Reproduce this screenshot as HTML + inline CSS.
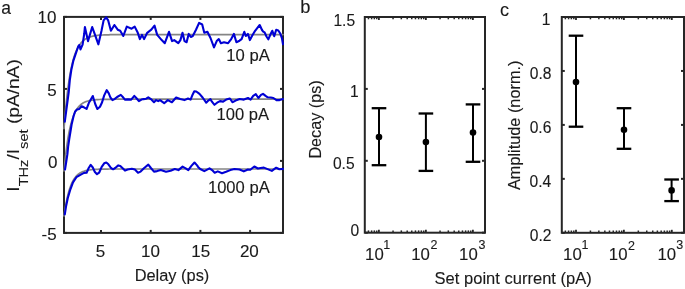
<!DOCTYPE html>
<html><head><meta charset="utf-8"><style>
html,body{margin:0;padding:0;background:#fff;}
svg{display:block;}
text{font-family:'Liberation Sans', Arial, Helvetica, sans-serif;fill:#1a1a1a;stroke:#1a1a1a;stroke-width:0.12px;}
</style></head><body>
<svg width="685" height="289" viewBox="0 0 685 289">
<rect width="685" height="289" fill="#fff"/>
<rect x="64.0" y="16.9" width="219.0" height="216.0" fill="none" stroke="#262626" stroke-width="2.0"/>
<line x1="101.00" y1="232.90" x2="101.00" y2="229.90" stroke="#262626" stroke-width="2.0"/>
<line x1="101.00" y1="16.90" x2="101.00" y2="19.90" stroke="#262626" stroke-width="2.0"/>
<line x1="150.70" y1="232.90" x2="150.70" y2="229.90" stroke="#262626" stroke-width="2.0"/>
<line x1="150.70" y1="16.90" x2="150.70" y2="19.90" stroke="#262626" stroke-width="2.0"/>
<line x1="200.40" y1="232.90" x2="200.40" y2="229.90" stroke="#262626" stroke-width="2.0"/>
<line x1="200.40" y1="16.90" x2="200.40" y2="19.90" stroke="#262626" stroke-width="2.0"/>
<line x1="250.10" y1="232.90" x2="250.10" y2="229.90" stroke="#262626" stroke-width="2.0"/>
<line x1="250.10" y1="16.90" x2="250.10" y2="19.90" stroke="#262626" stroke-width="2.0"/>
<line x1="64.00" y1="232.90" x2="67.00" y2="232.90" stroke="#262626" stroke-width="2.0"/>
<line x1="283.00" y1="232.90" x2="280.00" y2="232.90" stroke="#262626" stroke-width="2.0"/>
<line x1="64.00" y1="160.90" x2="67.00" y2="160.90" stroke="#262626" stroke-width="2.0"/>
<line x1="283.00" y1="160.90" x2="280.00" y2="160.90" stroke="#262626" stroke-width="2.0"/>
<line x1="64.00" y1="88.90" x2="67.00" y2="88.90" stroke="#262626" stroke-width="2.0"/>
<line x1="283.00" y1="88.90" x2="280.00" y2="88.90" stroke="#262626" stroke-width="2.0"/>
<line x1="64.00" y1="16.90" x2="67.00" y2="16.90" stroke="#262626" stroke-width="2.0"/>
<line x1="283.00" y1="16.90" x2="280.00" y2="16.90" stroke="#262626" stroke-width="2.0"/>
<polyline points="64.0,128.6 65.0,116.1 66.0,105.2 67.0,95.8 68.0,87.7 69.0,80.6 70.0,74.5 71.0,69.2 72.0,64.6 73.0,60.6 74.0,57.1 75.0,54.1 76.0,51.5 77.0,49.3 78.0,47.3 79.0,45.6 80.0,44.2 81.0,42.9 82.0,41.8 83.0,40.8 84.0,40.0 85.0,39.3 86.0,38.7 87.0,38.1 88.0,37.6 89.0,37.2 90.0,36.9 91.0,36.6 92.0,36.3 93.0,36.1 94.0,35.9 95.0,35.7 96.0,35.6 97.0,35.4 98.0,35.3 99.0,35.2 100.0,35.1 101.0,35.1 102.0,35.0 103.0,35.0 104.0,34.9 105.0,34.9 106.0,34.8 107.0,34.8 108.0,34.8 109.0,34.8 110.0,34.7 111.0,34.7 112.0,34.7 113.0,34.7 114.0,34.7 115.0,34.7 116.0,34.7 117.0,34.6 118.0,34.6 119.0,34.6 120.0,34.6 121.0,34.6 122.0,34.6 123.0,34.6 124.0,34.6 125.0,34.6 126.0,34.6 127.0,34.6 128.0,34.6 129.0,34.6 130.0,34.6 131.0,34.6 132.0,34.6 133.0,34.6 134.0,34.6 135.0,34.6 136.0,34.6 137.0,34.6 138.0,34.6 139.0,34.6 140.0,34.6 141.0,34.6 142.0,34.6 143.0,34.6 144.0,34.6 145.0,34.6 146.0,34.6 147.0,34.6 148.0,34.6 149.0,34.6 150.0,34.6 151.0,34.6 152.0,34.6 153.0,34.6 154.0,34.6 155.0,34.6 156.0,34.6 157.0,34.6 158.0,34.6 159.0,34.6 160.0,34.6 161.0,34.6 162.0,34.6 163.0,34.6 164.0,34.6 165.0,34.6 166.0,34.6 167.0,34.6 168.0,34.6 169.0,34.6 170.0,34.6 171.0,34.6 172.0,34.6 173.0,34.6 174.0,34.6 175.0,34.6 176.0,34.6 177.0,34.6 178.0,34.6 179.0,34.6 180.0,34.6 181.0,34.6 182.0,34.6 183.0,34.6 184.0,34.6 185.0,34.6 186.0,34.6 187.0,34.6 188.0,34.6 189.0,34.6 190.0,34.6 191.0,34.6 192.0,34.6 193.0,34.6 194.0,34.6 195.0,34.6 196.0,34.6 197.0,34.6 198.0,34.6 199.0,34.6 200.0,34.6 201.0,34.6 202.0,34.6 203.0,34.6 204.0,34.6 205.0,34.6 206.0,34.6 207.0,34.6 208.0,34.6 209.0,34.6 210.0,34.6 211.0,34.6 212.0,34.6 213.0,34.6 214.0,34.6 215.0,34.6 216.0,34.6 217.0,34.6 218.0,34.6 219.0,34.6 220.0,34.6 221.0,34.6 222.0,34.6 223.0,34.6 224.0,34.6 225.0,34.6 226.0,34.6 227.0,34.6 228.0,34.6 229.0,34.6 230.0,34.6 231.0,34.6 232.0,34.6 233.0,34.6 234.0,34.6 235.0,34.6 236.0,34.6 237.0,34.6 238.0,34.6 239.0,34.6 240.0,34.6 241.0,34.6 242.0,34.6 243.0,34.6 244.0,34.6 245.0,34.6 246.0,34.6 247.0,34.6 248.0,34.6 249.0,34.6 250.0,34.6 251.0,34.6 252.0,34.6 253.0,34.6 254.0,34.6 255.0,34.6 256.0,34.6 257.0,34.6 258.0,34.6 259.0,34.6 260.0,34.6 261.0,34.6 262.0,34.6 263.0,34.6 264.0,34.6 265.0,34.6 266.0,34.6 267.0,34.6 268.0,34.6 269.0,34.6 270.0,34.6 271.0,34.6 272.0,34.6 273.0,34.6 274.0,34.6 275.0,34.6 276.0,34.6 277.0,34.6 278.0,34.6 279.0,34.6 280.0,34.6 281.0,34.6 282.0,34.6 283.0,34.6" fill="none" stroke="#858585" stroke-width="1.7" stroke-linejoin="round" stroke-linecap="round"/>
<polyline points="64.0,171.0 65.0,160.8 66.0,152.0 67.0,144.5 68.0,138.0 69.0,132.5 70.0,127.7 71.0,123.7 72.0,120.2 73.0,117.2 74.0,114.6 75.0,112.4 76.0,110.5 77.0,108.9 78.0,107.5 79.0,106.3 80.0,105.3 81.0,104.5 82.0,103.7 83.0,103.1 84.0,102.5 85.0,102.0 86.0,101.6 87.0,101.3 88.0,101.0 89.0,100.7 90.0,100.5 91.0,100.3 92.0,100.2 93.0,100.0 94.0,99.9 95.0,99.8 96.0,99.7 97.0,99.6 98.0,99.6 99.0,99.5 100.0,99.5 101.0,99.4 102.0,99.4 103.0,99.4 104.0,99.4 105.0,99.3 106.0,99.3 107.0,99.3 108.0,99.3 109.0,99.3 110.0,99.3 111.0,99.3 112.0,99.2 113.0,99.2 114.0,99.2 115.0,99.2 116.0,99.2 117.0,99.2 118.0,99.2 119.0,99.2 120.0,99.2 121.0,99.2 122.0,99.2 123.0,99.2 124.0,99.2 125.0,99.2 126.0,99.2 127.0,99.2 128.0,99.2 129.0,99.2 130.0,99.2 131.0,99.2 132.0,99.2 133.0,99.2 134.0,99.2 135.0,99.2 136.0,99.2 137.0,99.2 138.0,99.2 139.0,99.2 140.0,99.2 141.0,99.2 142.0,99.2 143.0,99.2 144.0,99.2 145.0,99.2 146.0,99.2 147.0,99.2 148.0,99.2 149.0,99.2 150.0,99.2 151.0,99.2 152.0,99.2 153.0,99.2 154.0,99.2 155.0,99.2 156.0,99.2 157.0,99.2 158.0,99.2 159.0,99.2 160.0,99.2 161.0,99.2 162.0,99.2 163.0,99.2 164.0,99.2 165.0,99.2 166.0,99.2 167.0,99.2 168.0,99.2 169.0,99.2 170.0,99.2 171.0,99.2 172.0,99.2 173.0,99.2 174.0,99.2 175.0,99.2 176.0,99.2 177.0,99.2 178.0,99.2 179.0,99.2 180.0,99.2 181.0,99.2 182.0,99.2 183.0,99.2 184.0,99.2 185.0,99.2 186.0,99.2 187.0,99.2 188.0,99.2 189.0,99.2 190.0,99.2 191.0,99.2 192.0,99.2 193.0,99.2 194.0,99.2 195.0,99.2 196.0,99.2 197.0,99.2 198.0,99.2 199.0,99.2 200.0,99.2 201.0,99.2 202.0,99.2 203.0,99.2 204.0,99.2 205.0,99.2 206.0,99.2 207.0,99.2 208.0,99.2 209.0,99.2 210.0,99.2 211.0,99.2 212.0,99.2 213.0,99.2 214.0,99.2 215.0,99.2 216.0,99.2 217.0,99.2 218.0,99.2 219.0,99.2 220.0,99.2 221.0,99.2 222.0,99.2 223.0,99.2 224.0,99.2 225.0,99.2 226.0,99.2 227.0,99.2 228.0,99.2 229.0,99.2 230.0,99.2 231.0,99.2 232.0,99.2 233.0,99.2 234.0,99.2 235.0,99.2 236.0,99.2 237.0,99.2 238.0,99.2 239.0,99.2 240.0,99.2 241.0,99.2 242.0,99.2 243.0,99.2 244.0,99.2 245.0,99.2 246.0,99.2 247.0,99.2 248.0,99.2 249.0,99.2 250.0,99.2 251.0,99.2 252.0,99.2 253.0,99.2 254.0,99.2 255.0,99.2 256.0,99.2 257.0,99.2 258.0,99.2 259.0,99.2 260.0,99.2 261.0,99.2 262.0,99.2 263.0,99.2 264.0,99.2 265.0,99.2 266.0,99.2 267.0,99.2 268.0,99.2 269.0,99.2 270.0,99.2 271.0,99.2 272.0,99.2 273.0,99.2 274.0,99.2 275.0,99.2 276.0,99.2 277.0,99.2 278.0,99.2 279.0,99.2 280.0,99.2 281.0,99.2 282.0,99.2 283.0,99.2" fill="none" stroke="#858585" stroke-width="1.7" stroke-linejoin="round" stroke-linecap="round"/>
<polyline points="64.0,216.0 65.0,209.3 66.0,203.6 67.0,198.6 68.0,194.4 69.0,190.8 70.0,187.7 71.0,185.0 72.0,182.7 73.0,180.8 74.0,179.1 75.0,177.7 76.0,176.4 77.0,175.4 78.0,174.5 79.0,173.7 80.0,173.0 81.0,172.4 82.0,171.9 83.0,171.5 84.0,171.2 85.0,170.9 86.0,170.6 87.0,170.4 88.0,170.2 89.0,170.0 90.0,169.9 91.0,169.7 92.0,169.6 93.0,169.5 94.0,169.5 95.0,169.4 96.0,169.3 97.0,169.3 98.0,169.3 99.0,169.2 100.0,169.2 101.0,169.2 102.0,169.1 103.0,169.1 104.0,169.1 105.0,169.1 106.0,169.1 107.0,169.1 108.0,169.1 109.0,169.0 110.0,169.0 111.0,169.0 112.0,169.0 113.0,169.0 114.0,169.0 115.0,169.0 116.0,169.0 117.0,169.0 118.0,169.0 119.0,169.0 120.0,169.0 121.0,169.0 122.0,169.0 123.0,169.0 124.0,169.0 125.0,169.0 126.0,169.0 127.0,169.0 128.0,169.0 129.0,169.0 130.0,169.0 131.0,169.0 132.0,169.0 133.0,169.0 134.0,169.0 135.0,169.0 136.0,169.0 137.0,169.0 138.0,169.0 139.0,169.0 140.0,169.0 141.0,169.0 142.0,169.0 143.0,169.0 144.0,169.0 145.0,169.0 146.0,169.0 147.0,169.0 148.0,169.0 149.0,169.0 150.0,169.0 151.0,169.0 152.0,169.0 153.0,169.0 154.0,169.0 155.0,169.0 156.0,169.0 157.0,169.0 158.0,169.0 159.0,169.0 160.0,169.0 161.0,169.0 162.0,169.0 163.0,169.0 164.0,169.0 165.0,169.0 166.0,169.0 167.0,169.0 168.0,169.0 169.0,169.0 170.0,169.0 171.0,169.0 172.0,169.0 173.0,169.0 174.0,169.0 175.0,169.0 176.0,169.0 177.0,169.0 178.0,169.0 179.0,169.0 180.0,169.0 181.0,169.0 182.0,169.0 183.0,169.0 184.0,169.0 185.0,169.0 186.0,169.0 187.0,169.0 188.0,169.0 189.0,169.0 190.0,169.0 191.0,169.0 192.0,169.0 193.0,169.0 194.0,169.0 195.0,169.0 196.0,169.0 197.0,169.0 198.0,169.0 199.0,169.0 200.0,169.0 201.0,169.0 202.0,169.0 203.0,169.0 204.0,169.0 205.0,169.0 206.0,169.0 207.0,169.0 208.0,169.0 209.0,169.0 210.0,169.0 211.0,169.0 212.0,169.0 213.0,169.0 214.0,169.0 215.0,169.0 216.0,169.0 217.0,169.0 218.0,169.0 219.0,169.0 220.0,169.0 221.0,169.0 222.0,169.0 223.0,169.0 224.0,169.0 225.0,169.0 226.0,169.0 227.0,169.0 228.0,169.0 229.0,169.0 230.0,169.0 231.0,169.0 232.0,169.0 233.0,169.0 234.0,169.0 235.0,169.0 236.0,169.0 237.0,169.0 238.0,169.0 239.0,169.0 240.0,169.0 241.0,169.0 242.0,169.0 243.0,169.0 244.0,169.0 245.0,169.0 246.0,169.0 247.0,169.0 248.0,169.0 249.0,169.0 250.0,169.0 251.0,169.0 252.0,169.0 253.0,169.0 254.0,169.0 255.0,169.0 256.0,169.0 257.0,169.0 258.0,169.0 259.0,169.0 260.0,169.0 261.0,169.0 262.0,169.0 263.0,169.0 264.0,169.0 265.0,169.0 266.0,169.0 267.0,169.0 268.0,169.0 269.0,169.0 270.0,169.0 271.0,169.0 272.0,169.0 273.0,169.0 274.0,169.0 275.0,169.0 276.0,169.0 277.0,169.0 278.0,169.0 279.0,169.0 280.0,169.0 281.0,169.0 282.0,169.0 283.0,169.0" fill="none" stroke="#858585" stroke-width="1.7" stroke-linejoin="round" stroke-linecap="round"/>
<polyline points="64.8,121.7 66.4,109.6 68.7,92.3 69.8,80.2 71.3,70.0 73.4,60.6 75.5,54.4 78.2,46.5 79.4,45.0 80.5,49.4 82.6,44.6 84.2,34.0 84.9,27.0 88.0,41.1 92.2,27.0 94.3,32.8 98.4,44.3 101.5,30.8 103.6,20.4 106.1,17.3 108.2,20.4 110.9,30.8 114.4,25.0 117.7,29.7 120.2,30.8 123.3,36.0 126.8,26.6 131.6,28.7 134.7,26.6 137.8,32.8 139.9,39.1 142.0,34.9 144.1,39.1 147.2,32.8 151.3,29.7 154.5,25.6 157.2,34.9 161.7,40.1 164.8,43.2 169.0,31.8 172.1,41.1 174.2,40.1 178.3,43.2 180.4,40.1 182.5,32.8 184.5,41.1 186.6,42.2 188.7,33.9 190.8,37.0 192.8,36.0 196.0,29.7 199.1,22.9 202.2,24.5 204.3,32.8 207.4,31.8 210.5,38.0 214.0,47.4 216.7,41.1 218.8,39.1 220.9,43.2 224.0,42.2 228.1,43.2 231.2,39.1 233.9,33.9 236.4,42.2 239.5,40.7 241.6,39.1 244.3,31.8 245.8,36.0 247.9,33.9 249.9,40.1 252.0,36.0 255.1,30.8 257.6,27.6 259.7,25.0 262.0,30.0 263.2,31.6 264.6,32.4 266.5,36.5 268.3,39.3 270.4,34.5 272.3,30.8 274.2,36.2 276.2,29.8 278.3,30.5 280.4,33.8 282.0,38.5 283.0,44.2" fill="none" stroke="#0000d4" stroke-width="2.1" stroke-linejoin="round" stroke-linecap="round"/>
<polyline points="65.0,169.5 66.2,162.0 67.4,154.2 68.1,146.8 69.2,139.4 70.4,132.0 71.6,124.5 73.6,116.0 75.1,111.5 77.0,109.6 79.3,108.9 81.6,106.2 83.9,107.3 86.6,108.9 88.8,103.1 91.1,99.1 92.8,96.0 95.3,104.3 97.4,109.0 100.0,106.8 102.1,102.2 104.2,95.4 106.7,90.2 108.8,93.3 110.4,97.5 112.5,100.1 114.5,99.1 117.1,97.0 120.8,94.9 122.8,97.0 124.9,99.6 128.0,99.4 131.2,99.6 134.3,95.9 136.3,98.0 138.9,101.1 141.5,99.6 143.6,99.1 146.2,98.7 148.3,97.3 150.9,99.1 154.0,102.2 156.1,100.1 158.2,101.1 160.0,100.1 164.2,103.2 167.8,100.1 171.9,102.2 176.1,97.5 180.2,99.1 184.4,100.1 188.0,98.5 190.6,99.6 192.7,94.4 194.3,91.3 196.3,91.5 199.5,93.9 202.6,97.5 206.2,102.7 208.3,100.6 210.4,99.1 211.9,101.7 214.5,104.8 217.1,102.7 220.0,101.1 223.1,101.6 226.2,99.6 229.9,98.5 232.4,102.2 235.6,100.6 239.7,99.0 243.9,99.6 248.0,98.0 250.6,99.6 253.2,95.9 255.8,94.2 258.4,98.0 261.0,94.9 263.0,93.9 265.6,95.9 267.7,97.3 270.8,97.5 273.4,98.0 276.5,100.1 279.6,100.1 283.0,99.0" fill="none" stroke="#0000d4" stroke-width="2.1" stroke-linejoin="round" stroke-linecap="round"/>
<polyline points="64.8,214.4 66.0,206.6 67.8,198.0 70.4,189.3 73.0,182.4 76.4,177.2 80.8,174.6 84.0,172.9 86.6,172.7 88.7,168.0 90.7,164.9 92.8,167.5 94.9,172.1 97.0,174.2 99.1,172.7 101.7,166.9 104.2,163.3 106.3,162.5 108.4,164.3 111.0,168.0 113.1,169.3 115.2,168.0 118.3,165.4 120.3,165.9 122.4,168.0 125.0,170.6 127.6,169.5 131.8,168.8 134.9,169.5 138.0,172.7 140.6,171.6 144.2,168.0 148.3,164.6 150.9,168.0 154.0,171.6 157.1,171.1 160.8,170.1 166.0,171.8 170.6,170.8 174.8,169.0 178.4,170.1 182.6,166.6 185.7,168.3 188.3,170.1 191.4,165.9 194.5,162.5 197.1,165.4 198.1,166.9 200.2,169.0 204.3,171.1 209.5,168.3 212.1,170.1 214.7,172.7 217.8,171.4 222.0,173.2 226.1,171.8 230.3,170.1 234.4,169.0 239.6,169.5 243.8,171.4 247.9,169.5 250.3,169.7 254.3,166.5 257.9,168.5 260.5,168.0 263.9,167.6 267.0,168.9 271.8,170.9 276.2,167.7 279.4,169.3 283.0,168.9" fill="none" stroke="#0000d4" stroke-width="2.1" stroke-linejoin="round" stroke-linecap="round"/>
<text transform="translate(37.53,23.38)" font-size="17.0">10</text>
<text transform="translate(47.34,95.98)" font-size="17.0">5</text>
<text transform="translate(48.07,167.78)" font-size="17.0">0</text>
<text transform="translate(41.58,240.08)" font-size="17.0">-5</text>
<text transform="translate(95.74,257.18)" font-size="17.0">5</text>
<text transform="translate(140.98,257.08)" font-size="17.0">10</text>
<text transform="translate(191.21,257.08)" font-size="17.0">15</text>
<text transform="translate(239.90,257.38)" font-size="17.0">20</text>
<text transform="translate(134.66,281.09) scale(1.017,1.000)" font-size="16.13">Delay (ps)</text>
<text transform="translate(1.32,13.77)" font-size="17.5">a</text>
<text transform="translate(226.35,61.49) scale(1.029,1.000)" font-size="16.17">10 pA</text>
<text transform="translate(216.55,120.11) scale(1.033,1.000)" font-size="16.06">100 pA</text>
<text transform="translate(207.93,192.56) scale(1.019,1.000)" font-size="16.28">1000 pA</text>
<text transform="translate(19.0,191.7) rotate(-90) scale(1.10,1)" font-size="17.4" style="stroke-width:0.1px">I<tspan font-size="13.3" dy="8.7">THz</tspan><tspan dy="-8.7">/I</tspan><tspan font-size="13.3" dy="8.7">set</tspan><tspan dy="-8.7"> (pA/nA)</tspan></text>
<rect x="364.8" y="17.0" width="120.19999999999999" height="215.7" fill="none" stroke="#262626" stroke-width="2.0"/>
<line x1="368.47" y1="232.70" x2="368.47" y2="230.40" stroke="#262626" stroke-width="1.5"/>
<line x1="368.47" y1="17.00" x2="368.47" y2="19.30" stroke="#262626" stroke-width="1.5"/>
<line x1="371.62" y1="232.70" x2="371.62" y2="230.40" stroke="#262626" stroke-width="1.5"/>
<line x1="371.62" y1="17.00" x2="371.62" y2="19.30" stroke="#262626" stroke-width="1.5"/>
<line x1="374.35" y1="232.70" x2="374.35" y2="230.40" stroke="#262626" stroke-width="1.5"/>
<line x1="374.35" y1="17.00" x2="374.35" y2="19.30" stroke="#262626" stroke-width="1.5"/>
<line x1="376.75" y1="232.70" x2="376.75" y2="230.40" stroke="#262626" stroke-width="1.5"/>
<line x1="376.75" y1="17.00" x2="376.75" y2="19.30" stroke="#262626" stroke-width="1.5"/>
<line x1="378.90" y1="232.70" x2="378.90" y2="229.70" stroke="#262626" stroke-width="1.8"/>
<line x1="378.90" y1="17.00" x2="378.90" y2="20.00" stroke="#262626" stroke-width="1.8"/>
<line x1="393.05" y1="232.70" x2="393.05" y2="230.40" stroke="#262626" stroke-width="1.5"/>
<line x1="393.05" y1="17.00" x2="393.05" y2="19.30" stroke="#262626" stroke-width="1.5"/>
<line x1="401.32" y1="232.70" x2="401.32" y2="230.40" stroke="#262626" stroke-width="1.5"/>
<line x1="401.32" y1="17.00" x2="401.32" y2="19.30" stroke="#262626" stroke-width="1.5"/>
<line x1="407.20" y1="232.70" x2="407.20" y2="230.40" stroke="#262626" stroke-width="1.5"/>
<line x1="407.20" y1="17.00" x2="407.20" y2="19.30" stroke="#262626" stroke-width="1.5"/>
<line x1="411.75" y1="232.70" x2="411.75" y2="230.40" stroke="#262626" stroke-width="1.5"/>
<line x1="411.75" y1="17.00" x2="411.75" y2="19.30" stroke="#262626" stroke-width="1.5"/>
<line x1="415.47" y1="232.70" x2="415.47" y2="230.40" stroke="#262626" stroke-width="1.5"/>
<line x1="415.47" y1="17.00" x2="415.47" y2="19.30" stroke="#262626" stroke-width="1.5"/>
<line x1="418.62" y1="232.70" x2="418.62" y2="230.40" stroke="#262626" stroke-width="1.5"/>
<line x1="418.62" y1="17.00" x2="418.62" y2="19.30" stroke="#262626" stroke-width="1.5"/>
<line x1="421.35" y1="232.70" x2="421.35" y2="230.40" stroke="#262626" stroke-width="1.5"/>
<line x1="421.35" y1="17.00" x2="421.35" y2="19.30" stroke="#262626" stroke-width="1.5"/>
<line x1="423.75" y1="232.70" x2="423.75" y2="230.40" stroke="#262626" stroke-width="1.5"/>
<line x1="423.75" y1="17.00" x2="423.75" y2="19.30" stroke="#262626" stroke-width="1.5"/>
<line x1="425.90" y1="232.70" x2="425.90" y2="229.70" stroke="#262626" stroke-width="1.8"/>
<line x1="425.90" y1="17.00" x2="425.90" y2="20.00" stroke="#262626" stroke-width="1.8"/>
<line x1="440.05" y1="232.70" x2="440.05" y2="230.40" stroke="#262626" stroke-width="1.5"/>
<line x1="440.05" y1="17.00" x2="440.05" y2="19.30" stroke="#262626" stroke-width="1.5"/>
<line x1="448.32" y1="232.70" x2="448.32" y2="230.40" stroke="#262626" stroke-width="1.5"/>
<line x1="448.32" y1="17.00" x2="448.32" y2="19.30" stroke="#262626" stroke-width="1.5"/>
<line x1="454.20" y1="232.70" x2="454.20" y2="230.40" stroke="#262626" stroke-width="1.5"/>
<line x1="454.20" y1="17.00" x2="454.20" y2="19.30" stroke="#262626" stroke-width="1.5"/>
<line x1="458.75" y1="232.70" x2="458.75" y2="230.40" stroke="#262626" stroke-width="1.5"/>
<line x1="458.75" y1="17.00" x2="458.75" y2="19.30" stroke="#262626" stroke-width="1.5"/>
<line x1="462.47" y1="232.70" x2="462.47" y2="230.40" stroke="#262626" stroke-width="1.5"/>
<line x1="462.47" y1="17.00" x2="462.47" y2="19.30" stroke="#262626" stroke-width="1.5"/>
<line x1="465.62" y1="232.70" x2="465.62" y2="230.40" stroke="#262626" stroke-width="1.5"/>
<line x1="465.62" y1="17.00" x2="465.62" y2="19.30" stroke="#262626" stroke-width="1.5"/>
<line x1="468.35" y1="232.70" x2="468.35" y2="230.40" stroke="#262626" stroke-width="1.5"/>
<line x1="468.35" y1="17.00" x2="468.35" y2="19.30" stroke="#262626" stroke-width="1.5"/>
<line x1="470.75" y1="232.70" x2="470.75" y2="230.40" stroke="#262626" stroke-width="1.5"/>
<line x1="470.75" y1="17.00" x2="470.75" y2="19.30" stroke="#262626" stroke-width="1.5"/>
<line x1="472.90" y1="232.70" x2="472.90" y2="229.70" stroke="#262626" stroke-width="1.8"/>
<line x1="472.90" y1="17.00" x2="472.90" y2="20.00" stroke="#262626" stroke-width="1.8"/>
<line x1="364.80" y1="232.70" x2="367.80" y2="232.70" stroke="#262626" stroke-width="2.0"/>
<line x1="485.00" y1="232.70" x2="482.00" y2="232.70" stroke="#262626" stroke-width="2.0"/>
<line x1="364.80" y1="160.80" x2="367.80" y2="160.80" stroke="#262626" stroke-width="2.0"/>
<line x1="485.00" y1="160.80" x2="482.00" y2="160.80" stroke="#262626" stroke-width="2.0"/>
<line x1="364.80" y1="88.90" x2="367.80" y2="88.90" stroke="#262626" stroke-width="2.0"/>
<line x1="485.00" y1="88.90" x2="482.00" y2="88.90" stroke="#262626" stroke-width="2.0"/>
<line x1="364.80" y1="17.00" x2="367.80" y2="17.00" stroke="#262626" stroke-width="2.0"/>
<line x1="485.00" y1="17.00" x2="482.00" y2="17.00" stroke="#262626" stroke-width="2.0"/>
<line x1="379.00" y1="108.20" x2="379.00" y2="165.20" stroke="#000" stroke-width="2.0"/>
<line x1="371.70" y1="108.20" x2="386.30" y2="108.20" stroke="#000" stroke-width="2.3"/>
<line x1="371.70" y1="165.20" x2="386.30" y2="165.20" stroke="#000" stroke-width="2.3"/>
<circle cx="379.0" cy="137.0" r="3.3" fill="#000"/>
<line x1="425.90" y1="113.50" x2="425.90" y2="170.90" stroke="#000" stroke-width="2.0"/>
<line x1="418.60" y1="113.50" x2="433.20" y2="113.50" stroke="#000" stroke-width="2.3"/>
<line x1="418.60" y1="170.90" x2="433.20" y2="170.90" stroke="#000" stroke-width="2.3"/>
<circle cx="425.9" cy="142.1" r="3.3" fill="#000"/>
<line x1="473.00" y1="104.40" x2="473.00" y2="161.80" stroke="#000" stroke-width="2.0"/>
<line x1="465.70" y1="104.40" x2="480.30" y2="104.40" stroke="#000" stroke-width="2.3"/>
<line x1="465.70" y1="161.80" x2="480.30" y2="161.80" stroke="#000" stroke-width="2.3"/>
<circle cx="473.0" cy="132.6" r="3.3" fill="#000"/>
<text transform="translate(333.44,25.59)" font-size="15.6">1.5</text>
<text transform="translate(350.00,97.25)" font-size="15.6">1</text>
<text transform="translate(332.93,169.29)" font-size="15.6">0.5</text>
<text transform="translate(350.51,236.39)" font-size="15.6">0</text>
<text transform="translate(365.05,259.88)" font-size="16.8">10</text>
<text transform="translate(383.36,248.55)" font-size="12.5">1</text>
<text transform="translate(411.15,259.98)" font-size="16.8">10</text>
<text transform="translate(430.42,249.05)" font-size="12.5">2</text>
<text transform="translate(459.05,259.98)" font-size="16.8">10</text>
<text transform="translate(478.41,248.92)" font-size="12.5">3</text>
<text transform="translate(300.35,13.47)" font-size="18.3">b</text>
<text transform="translate(321.4,158.6) rotate(-90)" font-size="16.2">Decay (ps)</text>
<rect x="561.8" y="17.0" width="122.20000000000005" height="215.8" fill="none" stroke="#262626" stroke-width="2.0"/>
<line x1="565.37" y1="232.80" x2="565.37" y2="230.50" stroke="#262626" stroke-width="1.5"/>
<line x1="565.37" y1="17.00" x2="565.37" y2="19.30" stroke="#262626" stroke-width="1.5"/>
<line x1="568.58" y1="232.80" x2="568.58" y2="230.50" stroke="#262626" stroke-width="1.5"/>
<line x1="568.58" y1="17.00" x2="568.58" y2="19.30" stroke="#262626" stroke-width="1.5"/>
<line x1="571.36" y1="232.80" x2="571.36" y2="230.50" stroke="#262626" stroke-width="1.5"/>
<line x1="571.36" y1="17.00" x2="571.36" y2="19.30" stroke="#262626" stroke-width="1.5"/>
<line x1="573.81" y1="232.80" x2="573.81" y2="230.50" stroke="#262626" stroke-width="1.5"/>
<line x1="573.81" y1="17.00" x2="573.81" y2="19.30" stroke="#262626" stroke-width="1.5"/>
<line x1="576.00" y1="232.80" x2="576.00" y2="229.80" stroke="#262626" stroke-width="1.8"/>
<line x1="576.00" y1="17.00" x2="576.00" y2="20.00" stroke="#262626" stroke-width="1.8"/>
<line x1="590.42" y1="232.80" x2="590.42" y2="230.50" stroke="#262626" stroke-width="1.5"/>
<line x1="590.42" y1="17.00" x2="590.42" y2="19.30" stroke="#262626" stroke-width="1.5"/>
<line x1="598.85" y1="232.80" x2="598.85" y2="230.50" stroke="#262626" stroke-width="1.5"/>
<line x1="598.85" y1="17.00" x2="598.85" y2="19.30" stroke="#262626" stroke-width="1.5"/>
<line x1="604.84" y1="232.80" x2="604.84" y2="230.50" stroke="#262626" stroke-width="1.5"/>
<line x1="604.84" y1="17.00" x2="604.84" y2="19.30" stroke="#262626" stroke-width="1.5"/>
<line x1="609.48" y1="232.80" x2="609.48" y2="230.50" stroke="#262626" stroke-width="1.5"/>
<line x1="609.48" y1="17.00" x2="609.48" y2="19.30" stroke="#262626" stroke-width="1.5"/>
<line x1="613.27" y1="232.80" x2="613.27" y2="230.50" stroke="#262626" stroke-width="1.5"/>
<line x1="613.27" y1="17.00" x2="613.27" y2="19.30" stroke="#262626" stroke-width="1.5"/>
<line x1="616.48" y1="232.80" x2="616.48" y2="230.50" stroke="#262626" stroke-width="1.5"/>
<line x1="616.48" y1="17.00" x2="616.48" y2="19.30" stroke="#262626" stroke-width="1.5"/>
<line x1="619.26" y1="232.80" x2="619.26" y2="230.50" stroke="#262626" stroke-width="1.5"/>
<line x1="619.26" y1="17.00" x2="619.26" y2="19.30" stroke="#262626" stroke-width="1.5"/>
<line x1="621.71" y1="232.80" x2="621.71" y2="230.50" stroke="#262626" stroke-width="1.5"/>
<line x1="621.71" y1="17.00" x2="621.71" y2="19.30" stroke="#262626" stroke-width="1.5"/>
<line x1="623.90" y1="232.80" x2="623.90" y2="229.80" stroke="#262626" stroke-width="1.8"/>
<line x1="623.90" y1="17.00" x2="623.90" y2="20.00" stroke="#262626" stroke-width="1.8"/>
<line x1="638.32" y1="232.80" x2="638.32" y2="230.50" stroke="#262626" stroke-width="1.5"/>
<line x1="638.32" y1="17.00" x2="638.32" y2="19.30" stroke="#262626" stroke-width="1.5"/>
<line x1="646.75" y1="232.80" x2="646.75" y2="230.50" stroke="#262626" stroke-width="1.5"/>
<line x1="646.75" y1="17.00" x2="646.75" y2="19.30" stroke="#262626" stroke-width="1.5"/>
<line x1="652.74" y1="232.80" x2="652.74" y2="230.50" stroke="#262626" stroke-width="1.5"/>
<line x1="652.74" y1="17.00" x2="652.74" y2="19.30" stroke="#262626" stroke-width="1.5"/>
<line x1="657.38" y1="232.80" x2="657.38" y2="230.50" stroke="#262626" stroke-width="1.5"/>
<line x1="657.38" y1="17.00" x2="657.38" y2="19.30" stroke="#262626" stroke-width="1.5"/>
<line x1="661.17" y1="232.80" x2="661.17" y2="230.50" stroke="#262626" stroke-width="1.5"/>
<line x1="661.17" y1="17.00" x2="661.17" y2="19.30" stroke="#262626" stroke-width="1.5"/>
<line x1="664.38" y1="232.80" x2="664.38" y2="230.50" stroke="#262626" stroke-width="1.5"/>
<line x1="664.38" y1="17.00" x2="664.38" y2="19.30" stroke="#262626" stroke-width="1.5"/>
<line x1="667.16" y1="232.80" x2="667.16" y2="230.50" stroke="#262626" stroke-width="1.5"/>
<line x1="667.16" y1="17.00" x2="667.16" y2="19.30" stroke="#262626" stroke-width="1.5"/>
<line x1="669.61" y1="232.80" x2="669.61" y2="230.50" stroke="#262626" stroke-width="1.5"/>
<line x1="669.61" y1="17.00" x2="669.61" y2="19.30" stroke="#262626" stroke-width="1.5"/>
<line x1="671.80" y1="232.80" x2="671.80" y2="229.80" stroke="#262626" stroke-width="1.8"/>
<line x1="671.80" y1="17.00" x2="671.80" y2="20.00" stroke="#262626" stroke-width="1.8"/>
<line x1="561.80" y1="232.80" x2="564.80" y2="232.80" stroke="#262626" stroke-width="2.0"/>
<line x1="684.00" y1="232.80" x2="681.00" y2="232.80" stroke="#262626" stroke-width="2.0"/>
<line x1="561.80" y1="178.85" x2="564.80" y2="178.85" stroke="#262626" stroke-width="2.0"/>
<line x1="684.00" y1="178.85" x2="681.00" y2="178.85" stroke="#262626" stroke-width="2.0"/>
<line x1="561.80" y1="124.90" x2="564.80" y2="124.90" stroke="#262626" stroke-width="2.0"/>
<line x1="684.00" y1="124.90" x2="681.00" y2="124.90" stroke="#262626" stroke-width="2.0"/>
<line x1="561.80" y1="70.95" x2="564.80" y2="70.95" stroke="#262626" stroke-width="2.0"/>
<line x1="684.00" y1="70.95" x2="681.00" y2="70.95" stroke="#262626" stroke-width="2.0"/>
<line x1="561.80" y1="17.00" x2="564.80" y2="17.00" stroke="#262626" stroke-width="2.0"/>
<line x1="684.00" y1="17.00" x2="681.00" y2="17.00" stroke="#262626" stroke-width="2.0"/>
<line x1="576.00" y1="35.70" x2="576.00" y2="126.70" stroke="#000" stroke-width="2.0"/>
<line x1="568.70" y1="35.70" x2="583.30" y2="35.70" stroke="#000" stroke-width="2.3"/>
<line x1="568.70" y1="126.70" x2="583.30" y2="126.70" stroke="#000" stroke-width="2.3"/>
<circle cx="576.0" cy="82.1" r="3.3" fill="#000"/>
<line x1="624.00" y1="108.20" x2="624.00" y2="148.80" stroke="#000" stroke-width="2.0"/>
<line x1="616.70" y1="108.20" x2="631.30" y2="108.20" stroke="#000" stroke-width="2.3"/>
<line x1="616.70" y1="148.80" x2="631.30" y2="148.80" stroke="#000" stroke-width="2.3"/>
<circle cx="624.0" cy="129.7" r="3.3" fill="#000"/>
<line x1="671.60" y1="179.50" x2="671.60" y2="201.10" stroke="#000" stroke-width="2.0"/>
<line x1="664.30" y1="179.50" x2="678.90" y2="179.50" stroke="#000" stroke-width="2.3"/>
<line x1="664.30" y1="201.10" x2="678.90" y2="201.10" stroke="#000" stroke-width="2.3"/>
<circle cx="671.6" cy="190.4" r="3.3" fill="#000"/>
<text transform="translate(541.65,25.05)" font-size="15.6">1</text>
<text transform="translate(529.79,79.29)" font-size="15.6">0.8</text>
<text transform="translate(529.70,133.19)" font-size="15.6">0.6</text>
<text transform="translate(529.58,186.89)" font-size="15.6">0.4</text>
<text transform="translate(529.74,240.99)" font-size="15.6">0.2</text>
<text transform="translate(563.05,260.28)" font-size="16.8">10</text>
<text transform="translate(581.51,249.05)" font-size="12.5">1</text>
<text transform="translate(608.85,260.28)" font-size="16.8">10</text>
<text transform="translate(628.12,249.55)" font-size="12.5">2</text>
<text transform="translate(657.45,260.28)" font-size="16.8">10</text>
<text transform="translate(676.36,249.42)" font-size="12.5">3</text>
<text transform="translate(500.11,16.37)" font-size="18.0">c</text>
<text transform="translate(519.9,190.0) rotate(-90)" font-size="16.3">Amplitude (norm.)</text>
<text transform="translate(434.55,283.82) scale(0.974,1.000)" font-size="16.99">Set point current (pA)</text>
</svg>
</body></html>
